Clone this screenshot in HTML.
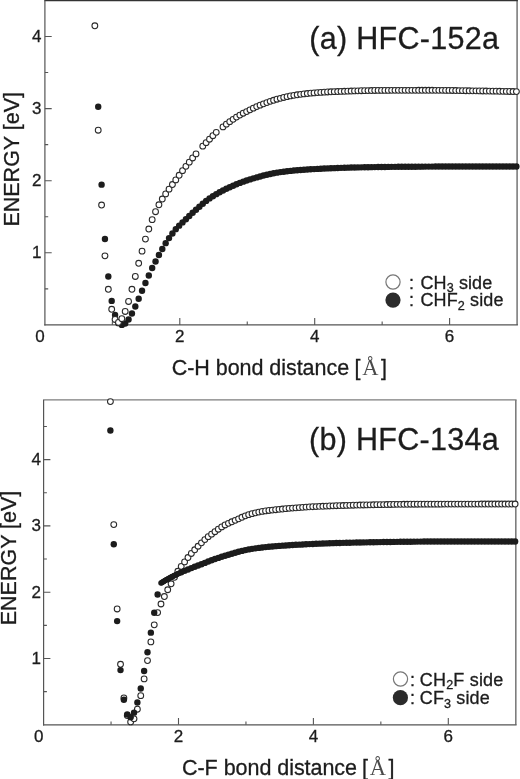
<!DOCTYPE html>
<html lang="en"><head><meta charset="utf-8"><title>Potential energy curves</title>
<style>
html,body{margin:0;padding:0;background:#fff}
svg{display:block}
text{font-family:"Liberation Sans",sans-serif;fill:#1c1c1c;stroke:#1c1c1c;stroke-width:0.3px}
</style></head><body>
<svg width="520" height="779" viewBox="0 0 520 779">
<rect width="520" height="779" fill="#fff"/>
<line x1="517.1" y1="0.4" x2="517.1" y2="324.9" stroke="#7d7d7d" stroke-width="1.6"/><line x1="44.3" y1="0.4" x2="517.9" y2="0.4" stroke="#333" stroke-width="1.8"/><line x1="44.9" y1="0.4" x2="44.9" y2="325.5" stroke="#555" stroke-width="1.2"/><line x1="44.3" y1="324.9" x2="517.9" y2="324.9" stroke="#555" stroke-width="1.2"/><path d="M44.9 288.85h3.3 M44.9 252.80h6.8 M44.9 216.75h3.3 M44.9 180.70h6.8 M44.9 144.65h3.3 M44.9 108.60h6.8 M44.9 72.55h3.3 M44.9 36.50h6.8 M112.35 324.9v-3.3 M179.80 324.9v-6.8 M247.25 324.9v-3.3 M314.70 324.9v-6.8 M382.15 324.9v-3.3 M449.60 324.9v-6.8" stroke="#555" stroke-width="1.1" fill="none"/><g fill="#1c1c1c"><circle cx="98.21" cy="106.73" r="3.2"/><circle cx="101.58" cy="184.67" r="3.2"/><circle cx="104.95" cy="239.03" r="3.2"/><circle cx="108.33" cy="276.52" r="3.2"/><circle cx="111.70" cy="300.89" r="3.2"/><circle cx="115.07" cy="315.02" r="3.2"/><circle cx="118.44" cy="323.17" r="3.2"/><circle cx="121.82" cy="324.90" r="3.2"/><circle cx="125.19" cy="323.46" r="3.2"/><circle cx="128.56" cy="319.49" r="3.2"/><circle cx="131.94" cy="313.44" r="3.2"/><circle cx="135.31" cy="306.51" r="3.2"/><circle cx="138.68" cy="298.73" r="3.2"/><circle cx="142.05" cy="290.80" r="3.2"/><circle cx="145.43" cy="282.94" r="3.2"/><circle cx="148.80" cy="275.51" r="3.2"/><circle cx="152.17" cy="267.94" r="3.2"/><circle cx="155.54" cy="261.45" r="3.2"/><circle cx="158.92" cy="254.96" r="3.2"/><circle cx="162.29" cy="248.98" r="3.2"/><circle cx="165.66" cy="243.14" r="3.2"/><circle cx="169.03" cy="238.09" r="3.2"/><circle cx="172.41" cy="233.48" r="3.2"/><circle cx="175.78" cy="229.17" r="3.2"/><circle cx="179.15" cy="225.64" r="3.2"/><circle cx="182.52" cy="222.41" r="3.2"/><circle cx="185.90" cy="219.20" r="3.2"/><circle cx="189.27" cy="215.94" r="3.2"/><circle cx="192.64" cy="212.75" r="3.2"/><circle cx="196.01" cy="209.68" r="3.2"/><circle cx="199.38" cy="206.68" r="3.2"/><circle cx="202.76" cy="203.71" r="3.2"/><circle cx="206.13" cy="200.91" r="3.2"/><circle cx="209.50" cy="198.39" r="3.2"/><circle cx="212.88" cy="196.18" r="3.2"/><circle cx="216.25" cy="194.13" r="3.2"/><circle cx="219.62" cy="192.22" r="3.2"/><circle cx="222.99" cy="190.43" r="3.2"/><circle cx="226.37" cy="188.76" r="3.2"/><circle cx="229.74" cy="187.19" r="3.2"/><circle cx="233.11" cy="185.69" r="3.2"/><circle cx="236.48" cy="184.26" r="3.2"/><circle cx="239.86" cy="182.91" r="3.2"/><circle cx="243.23" cy="181.64" r="3.2"/><circle cx="246.60" cy="180.47" r="3.2"/><circle cx="249.97" cy="179.40" r="3.2"/><circle cx="253.35" cy="178.40" r="3.2"/><circle cx="256.72" cy="177.42" r="3.2"/><circle cx="260.09" cy="176.47" r="3.2"/><circle cx="263.46" cy="175.57" r="3.2"/><circle cx="266.84" cy="174.72" r="3.2"/><circle cx="270.21" cy="173.94" r="3.2"/><circle cx="273.58" cy="173.24" r="3.2"/><circle cx="276.95" cy="172.63" r="3.2"/><circle cx="280.33" cy="172.12" r="3.2"/><circle cx="283.70" cy="171.68" r="3.2"/><circle cx="287.07" cy="171.27" r="3.2"/><circle cx="290.44" cy="170.90" r="3.2"/><circle cx="293.82" cy="170.55" r="3.2"/><circle cx="297.19" cy="170.24" r="3.2"/><circle cx="300.56" cy="169.95" r="3.2"/><circle cx="303.93" cy="169.70" r="3.2"/><circle cx="307.31" cy="169.47" r="3.2"/><circle cx="310.68" cy="169.27" r="3.2"/><circle cx="314.05" cy="169.08" r="3.2"/><circle cx="317.42" cy="168.90" r="3.2"/><circle cx="320.80" cy="168.73" r="3.2"/><circle cx="324.17" cy="168.57" r="3.2"/><circle cx="327.54" cy="168.41" r="3.2"/><circle cx="330.91" cy="168.26" r="3.2"/><circle cx="334.29" cy="168.13" r="3.2"/><circle cx="337.66" cy="168.00" r="3.2"/><circle cx="341.03" cy="167.87" r="3.2"/><circle cx="344.40" cy="167.76" r="3.2"/><circle cx="347.78" cy="167.66" r="3.2"/><circle cx="351.15" cy="167.56" r="3.2"/><circle cx="354.52" cy="167.48" r="3.2"/><circle cx="357.89" cy="167.40" r="3.2"/><circle cx="361.27" cy="167.34" r="3.2"/><circle cx="364.64" cy="167.27" r="3.2"/><circle cx="368.01" cy="167.21" r="3.2"/><circle cx="371.38" cy="167.15" r="3.2"/><circle cx="374.76" cy="167.10" r="3.2"/><circle cx="378.13" cy="167.05" r="3.2"/><circle cx="381.50" cy="167.00" r="3.2"/><circle cx="384.87" cy="166.95" r="3.2"/><circle cx="388.25" cy="166.91" r="3.2"/><circle cx="391.62" cy="166.87" r="3.2"/><circle cx="394.99" cy="166.83" r="3.2"/><circle cx="398.36" cy="166.80" r="3.2"/><circle cx="401.74" cy="166.77" r="3.2"/><circle cx="405.11" cy="166.74" r="3.2"/><circle cx="408.48" cy="166.72" r="3.2"/><circle cx="411.85" cy="166.70" r="3.2"/><circle cx="415.23" cy="166.68" r="3.2"/><circle cx="418.60" cy="166.66" r="3.2"/><circle cx="421.97" cy="166.64" r="3.2"/><circle cx="425.34" cy="166.62" r="3.2"/><circle cx="428.72" cy="166.60" r="3.2"/><circle cx="432.09" cy="166.59" r="3.2"/><circle cx="435.46" cy="166.57" r="3.2"/><circle cx="438.83" cy="166.56" r="3.2"/><circle cx="442.21" cy="166.54" r="3.2"/><circle cx="445.58" cy="166.53" r="3.2"/><circle cx="448.95" cy="166.52" r="3.2"/><circle cx="452.32" cy="166.51" r="3.2"/><circle cx="455.70" cy="166.50" r="3.2"/><circle cx="459.07" cy="166.50" r="3.2"/><circle cx="462.44" cy="166.50" r="3.2"/><circle cx="465.81" cy="166.50" r="3.2"/><circle cx="469.19" cy="166.50" r="3.2"/><circle cx="472.56" cy="166.50" r="3.2"/><circle cx="475.93" cy="166.50" r="3.2"/><circle cx="479.30" cy="166.50" r="3.2"/><circle cx="482.68" cy="166.50" r="3.2"/><circle cx="486.05" cy="166.50" r="3.2"/><circle cx="489.42" cy="166.50" r="3.2"/><circle cx="492.79" cy="166.50" r="3.2"/><circle cx="496.17" cy="166.50" r="3.2"/><circle cx="499.54" cy="166.50" r="3.2"/><circle cx="502.91" cy="166.50" r="3.2"/><circle cx="506.28" cy="166.50" r="3.2"/><circle cx="509.66" cy="166.50" r="3.2"/><circle cx="513.03" cy="166.50" r="3.2"/><circle cx="516.40" cy="166.50" r="3.2"/></g><g fill="#fff" stroke="#2a2a2a" stroke-width="1.05"><circle cx="94.84" cy="25.76" r="2.9"/><circle cx="98.21" cy="130.23" r="2.9"/><circle cx="101.58" cy="205.00" r="2.9"/><circle cx="104.95" cy="255.83" r="2.9"/><circle cx="108.33" cy="289.28" r="2.9"/><circle cx="111.70" cy="309.25" r="2.9"/><circle cx="115.07" cy="319.49" r="2.9"/><circle cx="118.44" cy="322.38" r="2.9"/><circle cx="121.82" cy="318.63" r="2.9"/><circle cx="125.19" cy="311.49" r="2.9"/><circle cx="128.56" cy="301.47" r="2.9"/><circle cx="131.94" cy="289.28" r="2.9"/><circle cx="135.31" cy="276.45" r="2.9"/><circle cx="138.68" cy="263.25" r="2.9"/><circle cx="142.05" cy="251.14" r="2.9"/><circle cx="145.43" cy="239.10" r="2.9"/><circle cx="148.80" cy="229.01" r="2.9"/><circle cx="152.17" cy="219.63" r="2.9"/><circle cx="155.54" cy="211.70" r="2.9"/><circle cx="158.92" cy="204.78" r="2.9"/><circle cx="162.29" cy="199.01" r="2.9"/><circle cx="165.66" cy="193.93" r="2.9"/><circle cx="169.03" cy="189.18" r="2.9"/><circle cx="172.41" cy="184.52" r="2.9"/><circle cx="175.78" cy="179.91" r="2.9"/><circle cx="179.15" cy="175.29" r="2.9"/><circle cx="182.52" cy="170.68" r="2.9"/><circle cx="185.90" cy="166.35" r="2.9"/><circle cx="189.27" cy="162.17" r="2.9"/><circle cx="192.64" cy="157.99" r="2.9"/><circle cx="196.01" cy="153.88" r="2.9"/><circle cx="202.76" cy="146.16" r="2.9"/><circle cx="206.13" cy="142.63" r="2.9"/><circle cx="209.50" cy="139.24" r="2.9"/><circle cx="212.88" cy="135.71" r="2.9"/><circle cx="216.25" cy="132.32" r="2.9"/><circle cx="222.99" cy="126.91" r="2.9"/><circle cx="226.37" cy="124.17" r="2.9"/><circle cx="229.74" cy="121.65" r="2.9"/><circle cx="233.11" cy="119.34" r="2.9"/><circle cx="236.48" cy="117.11" r="2.9"/><circle cx="239.85" cy="115.09" r="2.9"/><circle cx="243.23" cy="113.21" r="2.9"/><circle cx="246.60" cy="111.56" r="2.9"/><circle cx="249.97" cy="109.83" r="2.9"/><circle cx="253.35" cy="108.17" r="2.9"/><circle cx="256.72" cy="106.58" r="2.9"/><circle cx="260.09" cy="105.17" r="2.9"/><circle cx="263.46" cy="103.83" r="2.9"/><circle cx="266.84" cy="102.56" r="2.9"/><circle cx="270.21" cy="101.36" r="2.9"/><circle cx="273.58" cy="100.25" r="2.9"/><circle cx="276.95" cy="99.24" r="2.9"/><circle cx="280.33" cy="98.33" r="2.9"/><circle cx="283.70" cy="97.47" r="2.9"/><circle cx="287.07" cy="96.67" r="2.9"/><circle cx="290.44" cy="95.94" r="2.9"/><circle cx="293.82" cy="95.30" r="2.9"/><circle cx="297.19" cy="94.76" r="2.9"/><circle cx="300.56" cy="94.30" r="2.9"/><circle cx="303.93" cy="93.88" r="2.9"/><circle cx="307.31" cy="93.51" r="2.9"/><circle cx="310.68" cy="93.17" r="2.9"/><circle cx="314.05" cy="92.88" r="2.9"/><circle cx="317.42" cy="92.62" r="2.9"/><circle cx="320.80" cy="92.38" r="2.9"/><circle cx="324.17" cy="92.16" r="2.9"/><circle cx="327.54" cy="91.96" r="2.9"/><circle cx="330.91" cy="91.79" r="2.9"/><circle cx="334.29" cy="91.64" r="2.9"/><circle cx="337.66" cy="91.51" r="2.9"/><circle cx="341.03" cy="91.38" r="2.9"/><circle cx="344.40" cy="91.26" r="2.9"/><circle cx="347.78" cy="91.14" r="2.9"/><circle cx="351.15" cy="91.03" r="2.9"/><circle cx="354.52" cy="90.92" r="2.9"/><circle cx="357.89" cy="90.82" r="2.9"/><circle cx="361.27" cy="90.73" r="2.9"/><circle cx="364.64" cy="90.65" r="2.9"/><circle cx="368.01" cy="90.58" r="2.9"/><circle cx="371.38" cy="90.52" r="2.9"/><circle cx="374.76" cy="90.47" r="2.9"/><circle cx="378.13" cy="90.44" r="2.9"/><circle cx="381.50" cy="90.42" r="2.9"/><circle cx="384.87" cy="90.40" r="2.9"/><circle cx="388.25" cy="90.39" r="2.9"/><circle cx="391.62" cy="90.37" r="2.9"/><circle cx="394.99" cy="90.36" r="2.9"/><circle cx="398.36" cy="90.35" r="2.9"/><circle cx="401.74" cy="90.33" r="2.9"/><circle cx="405.11" cy="90.32" r="2.9"/><circle cx="408.48" cy="90.31" r="2.9"/><circle cx="411.85" cy="90.31" r="2.9"/><circle cx="415.23" cy="90.30" r="2.9"/><circle cx="418.60" cy="90.29" r="2.9"/><circle cx="421.97" cy="90.29" r="2.9"/><circle cx="425.34" cy="90.29" r="2.9"/><circle cx="428.72" cy="90.29" r="2.9"/><circle cx="432.09" cy="90.29" r="2.9"/><circle cx="435.46" cy="90.31" r="2.9"/><circle cx="438.83" cy="90.33" r="2.9"/><circle cx="442.21" cy="90.36" r="2.9"/><circle cx="445.58" cy="90.40" r="2.9"/><circle cx="448.95" cy="90.44" r="2.9"/><circle cx="452.32" cy="90.49" r="2.9"/><circle cx="455.70" cy="90.54" r="2.9"/><circle cx="459.07" cy="90.59" r="2.9"/><circle cx="462.44" cy="90.65" r="2.9"/><circle cx="465.81" cy="90.70" r="2.9"/><circle cx="469.19" cy="90.76" r="2.9"/><circle cx="472.56" cy="90.81" r="2.9"/><circle cx="475.93" cy="90.86" r="2.9"/><circle cx="479.30" cy="90.91" r="2.9"/><circle cx="482.68" cy="90.97" r="2.9"/><circle cx="486.05" cy="91.02" r="2.9"/><circle cx="489.42" cy="91.08" r="2.9"/><circle cx="492.79" cy="91.13" r="2.9"/><circle cx="496.17" cy="91.19" r="2.9"/><circle cx="499.54" cy="91.26" r="2.9"/><circle cx="502.91" cy="91.32" r="2.9"/><circle cx="506.28" cy="91.38" r="2.9"/><circle cx="509.66" cy="91.45" r="2.9"/><circle cx="513.03" cy="91.52" r="2.9"/><circle cx="516.40" cy="91.58" r="2.9"/></g><g font-size="17"><text x="41.50" y="257.80" text-anchor="end">1</text><text x="41.50" y="185.70" text-anchor="end">2</text><text x="41.50" y="113.60" text-anchor="end">3</text><text x="41.50" y="41.50" text-anchor="end">4</text><text x="179.80" y="342.20" text-anchor="middle">2</text><text x="314.70" y="342.20" text-anchor="middle">4</text><text x="449.60" y="342.20" text-anchor="middle">6</text><text x="40.00" y="342.20" text-anchor="middle">0</text></g><line x1="515.8" y1="399.9" x2="515.8" y2="724.8" stroke="#7d7d7d" stroke-width="1.6"/><line x1="43.0" y1="399.9" x2="516.5999999999999" y2="399.9" stroke="#7d7d7d" stroke-width="1.4"/><line x1="43.6" y1="399.9" x2="43.6" y2="725.4" stroke="#555" stroke-width="1.2"/><line x1="43.0" y1="724.8" x2="516.5999999999999" y2="724.8" stroke="#555" stroke-width="1.2"/><path d="M43.6 691.65h3.3 M43.6 658.50h6.8 M43.6 625.35h3.3 M43.6 592.20h6.8 M43.6 559.05h3.3 M43.6 525.90h6.8 M43.6 492.75h3.3 M43.6 459.60h6.8 M43.6 426.45h3.3 M111.05 724.8v-3.3 M178.50 724.8v-6.8 M245.95 724.8v-3.3 M313.40 724.8v-6.8 M380.85 724.8v-3.3 M448.30 724.8v-6.8" stroke="#555" stroke-width="1.1" fill="none"/><g fill="#fff" stroke="#2a2a2a" stroke-width="1.05"><circle cx="110.40" cy="401.59" r="2.9"/><circle cx="113.77" cy="524.57" r="2.9"/><circle cx="117.15" cy="608.97" r="2.9"/><circle cx="120.52" cy="664.27" r="2.9"/><circle cx="123.89" cy="697.95" r="2.9"/><circle cx="127.26" cy="715.52" r="2.9"/><circle cx="130.63" cy="721.88" r="2.9"/><circle cx="134.01" cy="718.83" r="2.9"/><circle cx="137.38" cy="709.22" r="2.9"/><circle cx="140.75" cy="695.69" r="2.9"/><circle cx="144.12" cy="678.92" r="2.9"/><circle cx="147.50" cy="660.56" r="2.9"/><circle cx="150.87" cy="641.92" r="2.9"/><circle cx="154.24" cy="624.82" r="2.9"/><circle cx="157.62" cy="612.62" r="2.9"/><circle cx="160.99" cy="604.00" r="2.9"/><circle cx="164.36" cy="596.51" r="2.9"/><circle cx="167.73" cy="589.75" r="2.9"/><circle cx="171.10" cy="583.78" r="2.9"/><circle cx="174.48" cy="577.28" r="2.9"/><circle cx="177.85" cy="571.25" r="2.9"/><circle cx="181.22" cy="566.48" r="2.9"/><circle cx="184.59" cy="561.90" r="2.9"/><circle cx="187.97" cy="557.53" r="2.9"/><circle cx="191.34" cy="553.48" r="2.9"/><circle cx="194.71" cy="549.77" r="2.9"/><circle cx="198.08" cy="546.25" r="2.9"/><circle cx="201.46" cy="542.87" r="2.9"/><circle cx="204.83" cy="539.62" r="2.9"/><circle cx="208.20" cy="536.64" r="2.9"/><circle cx="211.57" cy="534.19" r="2.9"/><circle cx="214.95" cy="531.73" r="2.9"/><circle cx="218.32" cy="529.23" r="2.9"/><circle cx="221.69" cy="526.89" r="2.9"/><circle cx="225.06" cy="524.97" r="2.9"/><circle cx="228.44" cy="523.32" r="2.9"/><circle cx="231.81" cy="521.80" r="2.9"/><circle cx="235.18" cy="520.33" r="2.9"/><circle cx="238.56" cy="518.82" r="2.9"/><circle cx="241.93" cy="517.30" r="2.9"/><circle cx="245.30" cy="515.87" r="2.9"/><circle cx="248.67" cy="514.64" r="2.9"/><circle cx="252.05" cy="513.67" r="2.9"/><circle cx="255.42" cy="512.82" r="2.9"/><circle cx="258.79" cy="512.07" r="2.9"/><circle cx="262.16" cy="511.42" r="2.9"/><circle cx="265.54" cy="510.88" r="2.9"/><circle cx="268.91" cy="510.45" r="2.9"/><circle cx="272.28" cy="510.07" r="2.9"/><circle cx="275.65" cy="509.71" r="2.9"/><circle cx="279.03" cy="509.35" r="2.9"/><circle cx="282.40" cy="509.00" r="2.9"/><circle cx="285.77" cy="508.67" r="2.9"/><circle cx="289.14" cy="508.36" r="2.9"/><circle cx="292.52" cy="508.08" r="2.9"/><circle cx="295.89" cy="507.81" r="2.9"/><circle cx="299.26" cy="507.56" r="2.9"/><circle cx="302.63" cy="507.32" r="2.9"/><circle cx="306.01" cy="507.11" r="2.9"/><circle cx="309.38" cy="506.91" r="2.9"/><circle cx="312.75" cy="506.73" r="2.9"/><circle cx="316.12" cy="506.56" r="2.9"/><circle cx="319.50" cy="506.40" r="2.9"/><circle cx="322.87" cy="506.25" r="2.9"/><circle cx="326.24" cy="506.11" r="2.9"/><circle cx="329.61" cy="505.97" r="2.9"/><circle cx="332.99" cy="505.84" r="2.9"/><circle cx="336.36" cy="505.73" r="2.9"/><circle cx="339.73" cy="505.61" r="2.9"/><circle cx="343.10" cy="505.50" r="2.9"/><circle cx="346.48" cy="505.40" r="2.9"/><circle cx="349.85" cy="505.30" r="2.9"/><circle cx="353.22" cy="505.21" r="2.9"/><circle cx="356.59" cy="505.12" r="2.9"/><circle cx="359.97" cy="505.03" r="2.9"/><circle cx="363.34" cy="504.95" r="2.9"/><circle cx="366.71" cy="504.88" r="2.9"/><circle cx="370.08" cy="504.82" r="2.9"/><circle cx="373.46" cy="504.75" r="2.9"/><circle cx="376.83" cy="504.69" r="2.9"/><circle cx="380.20" cy="504.63" r="2.9"/><circle cx="383.57" cy="504.57" r="2.9"/><circle cx="386.95" cy="504.52" r="2.9"/><circle cx="390.32" cy="504.46" r="2.9"/><circle cx="393.69" cy="504.41" r="2.9"/><circle cx="397.06" cy="504.37" r="2.9"/><circle cx="400.44" cy="504.33" r="2.9"/><circle cx="403.81" cy="504.29" r="2.9"/><circle cx="407.18" cy="504.26" r="2.9"/><circle cx="410.55" cy="504.24" r="2.9"/><circle cx="413.93" cy="504.22" r="2.9"/><circle cx="417.30" cy="504.21" r="2.9"/><circle cx="420.67" cy="504.19" r="2.9"/><circle cx="424.04" cy="504.18" r="2.9"/><circle cx="427.42" cy="504.17" r="2.9"/><circle cx="430.79" cy="504.16" r="2.9"/><circle cx="434.16" cy="504.15" r="2.9"/><circle cx="437.53" cy="504.14" r="2.9"/><circle cx="440.91" cy="504.13" r="2.9"/><circle cx="444.28" cy="504.12" r="2.9"/><circle cx="447.65" cy="504.11" r="2.9"/><circle cx="451.02" cy="504.10" r="2.9"/><circle cx="454.40" cy="504.09" r="2.9"/><circle cx="457.77" cy="504.09" r="2.9"/><circle cx="461.14" cy="504.08" r="2.9"/><circle cx="464.51" cy="504.07" r="2.9"/><circle cx="467.89" cy="504.07" r="2.9"/><circle cx="471.26" cy="504.06" r="2.9"/><circle cx="474.63" cy="504.05" r="2.9"/><circle cx="478.00" cy="504.05" r="2.9"/><circle cx="481.38" cy="504.04" r="2.9"/><circle cx="484.75" cy="504.04" r="2.9"/><circle cx="488.12" cy="504.04" r="2.9"/><circle cx="491.49" cy="504.03" r="2.9"/><circle cx="494.87" cy="504.03" r="2.9"/><circle cx="498.24" cy="504.03" r="2.9"/><circle cx="501.61" cy="504.02" r="2.9"/><circle cx="504.98" cy="504.02" r="2.9"/><circle cx="508.36" cy="504.02" r="2.9"/><circle cx="511.73" cy="504.02" r="2.9"/><circle cx="515.10" cy="504.02" r="2.9"/></g><g fill="#1c1c1c"><circle cx="110.40" cy="430.56" r="3.2"/><circle cx="113.77" cy="544.20" r="3.2"/><circle cx="117.15" cy="621.11" r="3.2"/><circle cx="120.52" cy="670.10" r="3.2"/><circle cx="123.89" cy="699.80" r="3.2"/><circle cx="127.26" cy="714.39" r="3.2"/><circle cx="130.63" cy="717.31" r="3.2"/><circle cx="134.01" cy="712.67" r="3.2"/><circle cx="137.38" cy="702.52" r="3.2"/><circle cx="140.75" cy="688.47" r="3.2"/><circle cx="144.12" cy="670.96" r="3.2"/><circle cx="147.50" cy="652.27" r="3.2"/><circle cx="150.87" cy="632.64" r="3.2"/><circle cx="154.24" cy="612.75" r="3.2"/><circle cx="157.62" cy="594.52" r="3.2"/><circle cx="181.22" cy="572.33" r="3.2"/><circle cx="184.59" cy="570.86" r="3.2"/><circle cx="187.97" cy="569.45" r="3.2"/><circle cx="191.34" cy="568.10" r="3.2"/><circle cx="194.71" cy="566.80" r="3.2"/><circle cx="198.08" cy="565.53" r="3.2"/><circle cx="201.46" cy="564.23" r="3.2"/><circle cx="204.83" cy="562.90" r="3.2"/><circle cx="208.20" cy="561.57" r="3.2"/><circle cx="211.57" cy="560.28" r="3.2"/><circle cx="214.95" cy="559.05" r="3.2"/><circle cx="218.32" cy="557.89" r="3.2"/><circle cx="221.69" cy="556.77" r="3.2"/><circle cx="225.06" cy="555.74" r="3.2"/><circle cx="228.44" cy="554.73" r="3.2"/><circle cx="231.81" cy="553.71" r="3.2"/><circle cx="235.18" cy="552.72" r="3.2"/><circle cx="238.55" cy="551.77" r="3.2"/><circle cx="241.93" cy="550.88" r="3.2"/><circle cx="245.30" cy="550.09" r="3.2"/><circle cx="248.67" cy="549.41" r="3.2"/><circle cx="252.04" cy="548.85" r="3.2"/><circle cx="255.42" cy="548.34" r="3.2"/><circle cx="258.79" cy="547.89" r="3.2"/><circle cx="262.16" cy="547.48" r="3.2"/><circle cx="265.54" cy="547.10" r="3.2"/><circle cx="268.91" cy="546.76" r="3.2"/><circle cx="272.28" cy="546.45" r="3.2"/><circle cx="275.65" cy="546.17" r="3.2"/><circle cx="279.03" cy="545.90" r="3.2"/><circle cx="282.40" cy="545.66" r="3.2"/><circle cx="285.77" cy="545.43" r="3.2"/><circle cx="289.14" cy="545.22" r="3.2"/><circle cx="292.52" cy="545.01" r="3.2"/><circle cx="295.89" cy="544.82" r="3.2"/><circle cx="299.26" cy="544.63" r="3.2"/><circle cx="302.63" cy="544.45" r="3.2"/><circle cx="306.01" cy="544.28" r="3.2"/><circle cx="309.38" cy="544.11" r="3.2"/><circle cx="312.75" cy="543.95" r="3.2"/><circle cx="316.12" cy="543.80" r="3.2"/><circle cx="319.50" cy="543.65" r="3.2"/><circle cx="322.87" cy="543.52" r="3.2"/><circle cx="326.24" cy="543.39" r="3.2"/><circle cx="329.61" cy="543.27" r="3.2"/><circle cx="332.99" cy="543.16" r="3.2"/><circle cx="336.36" cy="543.06" r="3.2"/><circle cx="339.73" cy="542.96" r="3.2"/><circle cx="343.10" cy="542.86" r="3.2"/><circle cx="346.48" cy="542.77" r="3.2"/><circle cx="349.85" cy="542.69" r="3.2"/><circle cx="353.22" cy="542.61" r="3.2"/><circle cx="356.59" cy="542.53" r="3.2"/><circle cx="359.97" cy="542.46" r="3.2"/><circle cx="363.34" cy="542.39" r="3.2"/><circle cx="366.71" cy="542.33" r="3.2"/><circle cx="370.08" cy="542.27" r="3.2"/><circle cx="373.46" cy="542.20" r="3.2"/><circle cx="376.83" cy="542.15" r="3.2"/><circle cx="380.20" cy="542.09" r="3.2"/><circle cx="383.57" cy="542.04" r="3.2"/><circle cx="386.95" cy="541.99" r="3.2"/><circle cx="390.32" cy="541.94" r="3.2"/><circle cx="393.69" cy="541.89" r="3.2"/><circle cx="397.06" cy="541.85" r="3.2"/><circle cx="400.44" cy="541.81" r="3.2"/><circle cx="403.81" cy="541.77" r="3.2"/><circle cx="407.18" cy="541.73" r="3.2"/><circle cx="410.55" cy="541.70" r="3.2"/><circle cx="413.93" cy="541.66" r="3.2"/><circle cx="417.30" cy="541.62" r="3.2"/><circle cx="420.67" cy="541.59" r="3.2"/><circle cx="424.04" cy="541.55" r="3.2"/><circle cx="427.42" cy="541.53" r="3.2"/><circle cx="430.79" cy="541.51" r="3.2"/><circle cx="434.16" cy="541.49" r="3.2"/><circle cx="437.53" cy="541.48" r="3.2"/><circle cx="440.91" cy="541.48" r="3.2"/><circle cx="444.28" cy="541.48" r="3.2"/><circle cx="447.65" cy="541.48" r="3.2"/><circle cx="451.02" cy="541.48" r="3.2"/><circle cx="454.40" cy="541.48" r="3.2"/><circle cx="457.77" cy="541.48" r="3.2"/><circle cx="461.14" cy="541.48" r="3.2"/><circle cx="464.51" cy="541.48" r="3.2"/><circle cx="467.89" cy="541.48" r="3.2"/><circle cx="471.26" cy="541.48" r="3.2"/><circle cx="474.63" cy="541.48" r="3.2"/><circle cx="478.00" cy="541.48" r="3.2"/><circle cx="481.38" cy="541.48" r="3.2"/><circle cx="484.75" cy="541.48" r="3.2"/><circle cx="488.12" cy="541.48" r="3.2"/><circle cx="491.49" cy="541.48" r="3.2"/><circle cx="494.87" cy="541.48" r="3.2"/><circle cx="498.24" cy="541.48" r="3.2"/><circle cx="501.61" cy="541.48" r="3.2"/><circle cx="504.98" cy="541.48" r="3.2"/><circle cx="508.36" cy="541.48" r="3.2"/><circle cx="511.73" cy="541.48" r="3.2"/><circle cx="515.10" cy="541.48" r="3.2"/></g><g fill="#1c1c1c"><circle cx="160.99" cy="583.05" r="2.75"/><circle cx="161.66" cy="582.64" r="2.75"/><circle cx="162.34" cy="582.23" r="2.75"/><circle cx="163.01" cy="581.82" r="2.75"/><circle cx="163.69" cy="581.41" r="2.75"/><circle cx="164.36" cy="581.01" r="2.75"/><circle cx="165.03" cy="580.62" r="2.75"/><circle cx="165.71" cy="580.23" r="2.75"/><circle cx="166.38" cy="579.84" r="2.75"/><circle cx="167.06" cy="579.45" r="2.75"/><circle cx="167.73" cy="579.07" r="2.75"/><circle cx="168.41" cy="578.70" r="2.75"/><circle cx="169.08" cy="578.32" r="2.75"/><circle cx="169.76" cy="577.95" r="2.75"/><circle cx="170.43" cy="577.59" r="2.75"/><circle cx="171.10" cy="577.23" r="2.75"/><circle cx="171.78" cy="576.87" r="2.75"/><circle cx="172.45" cy="576.52" r="2.75"/><circle cx="173.13" cy="576.17" r="2.75"/><circle cx="173.80" cy="575.83" r="2.75"/><circle cx="174.48" cy="575.49" r="2.75"/><circle cx="175.15" cy="575.16" r="2.75"/><circle cx="175.83" cy="574.83" r="2.75"/><circle cx="176.50" cy="574.50" r="2.75"/><circle cx="177.18" cy="574.18" r="2.75"/><circle cx="177.85" cy="573.86" r="2.75"/><circle cx="178.52" cy="573.55" r="2.75"/><circle cx="179.20" cy="573.24" r="2.75"/></g><g font-size="17"><text x="40.90" y="664.00" text-anchor="end">1</text><text x="40.90" y="597.70" text-anchor="end">2</text><text x="40.90" y="531.40" text-anchor="end">3</text><text x="40.90" y="465.10" text-anchor="end">4</text><text x="178.50" y="741.50" text-anchor="middle">2</text><text x="313.40" y="741.50" text-anchor="middle">4</text><text x="448.30" y="741.50" text-anchor="middle">6</text><text x="38.70" y="741.50" text-anchor="middle">0</text></g>
<text id="ta" x="309.3" y="48.9" font-size="30.5" letter-spacing="0.3">(a) HFC-152a</text><text id="tb" x="309.0" y="449.6" font-size="30.5" letter-spacing="0.3">(b) HFC-134a</text><text id="xa" x="171.7" y="374.8" font-size="21.5" letter-spacing="-0.04">C-H bond distance</text><text x="354.6" y="374.8" font-size="21.5">[</text><text x="370.4" y="374.8" font-size="22.5" text-anchor="middle" style="font-family:'Liberation Serif',serif;fill:#4a4a4a;stroke:none">Å</text><text x="381.0" y="374.8" font-size="21.5">]</text><text id="xb" x="182.0" y="774.8" font-size="21.5" letter-spacing="-0.04">C-F bond distance</text><text x="362.0" y="774.8" font-size="21.5">[</text><text x="377.8" y="774.8" font-size="22.5" text-anchor="middle" style="font-family:'Liberation Serif',serif;fill:#4a4a4a;stroke:none">Å</text><text x="388.4" y="774.8" font-size="21.5">]</text><text id="ya" transform="translate(19.3 226.6) rotate(-90)" font-size="21.5">ENERGY [eV]</text><text id="yb" transform="translate(15.6 625.3) rotate(-90)" font-size="21.5">ENERGY [eV]</text><circle cx="393" cy="282" r="7.1" fill="#fff" stroke="#777" stroke-width="1.2"/><circle cx="393" cy="300.1" r="7.6" fill="#2b2b2b"/><text x="409.0" y="288.6" font-size="18">:</text><text x="409.0" y="306.3" font-size="18">:</text><text id="la1" letter-spacing="0.1" x="420.5" y="288.6" font-size="18">CH<tspan font-size="12.6" dy="3.8">3</tspan><tspan dy="-3.8"> side</tspan></text><text id="la2" letter-spacing="0.12" x="420.5" y="306.3" font-size="18">CHF<tspan font-size="12.6" dy="3.8">2</tspan><tspan dy="-3.8"> side</tspan></text><circle cx="400.5" cy="679" r="7.1" fill="#fff" stroke="#777" stroke-width="1.2"/><circle cx="400.4" cy="697.7" r="7.6" fill="#2b2b2b"/><text x="410.1" y="685.6" font-size="18">:</text><text x="410.1" y="704.2" font-size="18">:</text><text id="lb1" letter-spacing="0.18" x="419.8" y="685.6" font-size="18">CH<tspan font-size="12.6" dy="3.8">2</tspan><tspan dy="-3.8">F side</tspan></text><text id="lb2" letter-spacing="0.12" x="419.8" y="704.2" font-size="18">CF<tspan font-size="12.6" dy="3.8">3</tspan><tspan dy="-3.8"> side</tspan></text>
</svg>
</body></html>
